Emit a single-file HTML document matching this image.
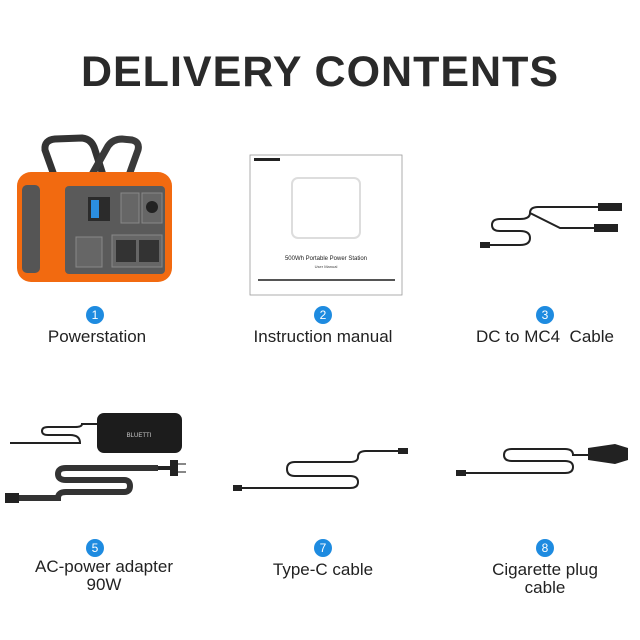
<!DOCTYPE html>
<html><head><meta charset="utf-8"><style>
body{margin:0;background:#fff;width:640px;height:640px;overflow:hidden;position:relative;font-family:"Liberation Sans",sans-serif}
.t{position:absolute;left:0;width:640px;text-align:center;top:48px;font-size:43px;font-weight:bold;color:#2a2a2a;letter-spacing:1px}
.n{position:absolute;width:18px;height:18px;border-radius:50%;background:#1e8be0;color:#fff;font-size:12px;text-align:center;line-height:18px}
.l{position:absolute;width:220px;text-align:center;font-size:17px;color:#222;line-height:18px}
</style></head><body>
<div class="t">DELIVERY CONTENTS</div>
<svg width="640" height="640" style="position:absolute;left:0;top:0">
<!-- power station -->
<path d="M55 178 L45 150 Q44 140 55 139 L82 138 Q92 139 95 150 L103 175" fill="none" stroke="#333" stroke-width="7"/>
<path d="M90 178 L108 146 Q113 139 122 139 L132 140 Q140 142 138 150 L128 178" fill="none" stroke="#3a3a3a" stroke-width="7"/>
<rect x="17" y="172" width="155" height="110" rx="14" fill="#f26a10"/>
<rect x="22" y="185" width="18" height="88" rx="5" fill="#555"/>
<rect x="65" y="186" width="100" height="88" rx="4" fill="#5a5a5a"/>
<rect x="88" y="197" width="22" height="24" fill="#2b2b2b"/><rect x="91" y="200" width="8" height="18" fill="#2b8ee0"/>
<rect x="121" y="193" width="18" height="30" fill="#666" stroke="#888"/><rect x="142" y="193" width="20" height="30" fill="#666" stroke="#888"/>
<circle cx="152" cy="207" r="6" fill="#222"/>
<rect x="76" y="237" width="26" height="30" fill="#666" stroke="#888"/>
<rect x="112" y="235" width="50" height="32" fill="#666" stroke="#888"/>
<rect x="116" y="240" width="20" height="22" fill="#333"/><rect x="139" y="240" width="20" height="22" fill="#333"/>
<!-- manual -->
<rect x="250" y="155" width="152" height="140" fill="#fff" stroke="#999" stroke-width="0.8"/>
<rect x="254" y="158" width="26" height="3" fill="#222"/>
<rect x="292" y="178" width="68" height="60" rx="6" fill="none" stroke="#ddd" stroke-width="2"/>
<text x="326" y="260" font-size="6" text-anchor="middle" fill="#222" font-family="Liberation Sans">500Wh Portable Power Station</text>
<text x="326" y="268" font-size="4" text-anchor="middle" fill="#444" font-family="Liberation Sans">User Manual</text>
<line x1="258" y1="280" x2="395" y2="280" stroke="#555" stroke-width="2"/>
<!-- DC to MC4 -->
<path d="M485 245 L520 245 Q530 245 530 238 Q530 231 520 231 L500 231 Q492 231 492 225 Q492 219 500 219 L520 219 Q530 219 530 213 Q530 207 538 207 L600 207" fill="none" stroke="#222" stroke-width="2"/>
<path d="M530 213 L560 228 L595 228" fill="none" stroke="#222" stroke-width="2"/>
<rect x="480" y="242" width="10" height="6" fill="#222"/>
<rect x="598" y="203" width="24" height="8" fill="#222"/><rect x="594" y="224" width="24" height="8" fill="#222"/>
<!-- AC adapter -->
<rect x="97" y="413" width="85" height="40" rx="7" fill="#1c1c1c"/>
<text x="139" y="437" font-size="6" text-anchor="middle" fill="#ccc" font-family="Liberation Sans">BLUETTI</text>
<path d="M10 443 L80 443 Q80 435 70 435 L48 435 Q42 435 42 431 Q42 427 48 427 L75 427 Q82 427 82 424 L97 424" fill="none" stroke="#222" stroke-width="2"/>
<path d="M158 468 L66 468 Q58 468 58 474 Q58 480 66 480 L124 480 Q130 480 130 486 Q130 492 124 492 L66 492 Q58 492 58 498 L10 498" fill="none" stroke="#333" stroke-width="6"/>
<path d="M158 468 L172 468" stroke="#222" stroke-width="4"/><rect x="170" y="460" width="8" height="16" fill="#222"/>
<line x1="178" y1="464" x2="186" y2="464" stroke="#888" stroke-width="2"/><line x1="178" y1="472" x2="186" y2="472" stroke="#888" stroke-width="2"/>
<rect x="5" y="493" width="14" height="10" fill="#222"/>
<!-- Type-C -->
<path d="M240 488 L350 488 Q358 488 358 482 Q358 476 350 476 L295 476 Q287 476 287 469 Q287 462 295 462 L350 462 Q358 462 358 457 Q358 451 366 451 L400 451" fill="none" stroke="#222" stroke-width="2"/>
<rect x="233" y="485" width="9" height="6" fill="#222"/><rect x="398" y="448" width="10" height="6" fill="#222"/>
<!-- cigarette -->
<path d="M462 473 L565 473 Q573 473 573 467 Q573 461 565 461 L512 461 Q504 461 504 455 Q504 449 512 449 L565 449 Q573 449 573 455 L590 455" fill="none" stroke="#222" stroke-width="2"/>
<rect x="456" y="470" width="10" height="6" fill="#222"/>
<path d="M588 448 L615 444 L628 448 L628 460 L615 464 L588 460 Z" fill="#222"/>
</svg>
<div class="n" style="left:86px;top:306px">1</div>
<div class="n" style="left:314px;top:306px">2</div>
<div class="n" style="left:536px;top:306px">3</div>
<div class="n" style="left:86px;top:539px">5</div>
<div class="n" style="left:314px;top:539px">7</div>
<div class="n" style="left:536px;top:539px">8</div>
<div class="l" style="left:-13px;top:328px">Powerstation</div>
<div class="l" style="left:213px;top:328px">Instruction manual</div>
<div class="l" style="left:435px;top:328px">DC to MC4&nbsp; Cable</div>
<div class="l" style="left:-6px;top:558px">AC-power adapter<br>90W</div>
<div class="l" style="left:213px;top:561px">Type-C cable</div>
<div class="l" style="left:435px;top:561px">Cigarette plug<br>cable</div>
</body></html>
